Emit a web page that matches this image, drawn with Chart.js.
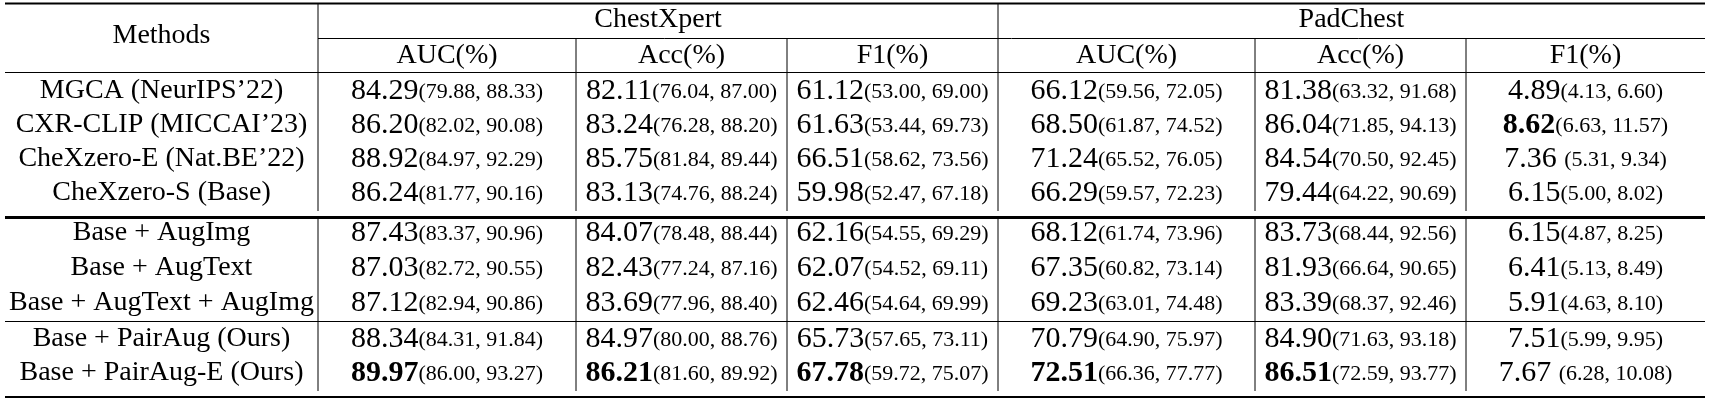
<!DOCTYPE html>
<html>
<head>
<meta charset="utf-8">
<script src="https://cdn.jsdelivr.net/npm/chart.js@4"></script>
<style>
  body { margin: 0; background: #fff; }
  canvas { display: block; }
</style>
</head>
<body>
<canvas id="tabla" width="1710" height="401"></canvas>
<script>
// Datos de la tabla
const methods = [
  'MGCA (NeurIPS’22)', 'CXR-CLIP (MICCAI’23)', 'CheXzero-E (Nat.BE’22)', 'CheXzero-S (Base)',
  'Base + AugImg', 'Base + AugText', 'Base + AugText + AugImg',
  'Base + PairAug (Ours)', 'Base + PairAug-E (Ours)'
];
const datasets = ['ChestXpert', 'PadChest'];
const metrics = ['AUC(%)', 'Acc(%)', 'F1(%)'];

const chexAUC = ['84.29', '86.20', '88.92', '86.24', '87.43', '87.03', '87.12', '88.34', '89.97'];
const chexAUCci = ['(79.88, 88.33)', '(82.02, 90.08)', '(84.97, 92.29)', '(81.77, 90.16)', '(83.37, 90.96)', '(82.72, 90.55)', '(82.94, 90.86)', '(84.31, 91.84)', '(86.00, 93.27)'];
const chexAcc = ['82.11', '83.24', '85.75', '83.13', '84.07', '82.43', '83.69', '84.97', '86.21'];
const chexAccci = ['(76.04, 87.00)', '(76.28, 88.20)', '(81.84, 89.44)', '(74.76, 88.24)', '(78.48, 88.44)', '(77.24, 87.16)', '(77.96, 88.40)', '(80.00, 88.76)', '(81.60, 89.92)'];
const chexF1 = ['61.12', '61.63', '66.51', '59.98', '62.16', '62.07', '62.46', '65.73', '67.78'];
const chexF1ci = ['(53.00, 69.00)', '(53.44, 69.73)', '(58.62, 73.56)', '(52.47, 67.18)', '(54.55, 69.29)', '(54.52, 69.11)', '(54.64, 69.99)', '(57.65, 73.11)', '(59.72, 75.07)'];
const padAUC = ['66.12', '68.50', '71.24', '66.29', '68.12', '67.35', '69.23', '70.79', '72.51'];
const padAUCci = ['(59.56, 72.05)', '(61.87, 74.52)', '(65.52, 76.05)', '(59.57, 72.23)', '(61.74, 73.96)', '(60.82, 73.14)', '(63.01, 74.48)', '(64.90, 75.97)', '(66.36, 77.77)'];
const padAcc = ['81.38', '86.04', '84.54', '79.44', '83.73', '81.93', '83.39', '84.90', '86.51'];
const padAccci = ['(63.32, 91.68)', '(71.85, 94.13)', '(70.50, 92.45)', '(64.22, 90.69)', '(68.44, 92.56)', '(66.64, 90.65)', '(68.37, 92.46)', '(71.63, 93.18)', '(72.59, 93.77)'];
const padF1 = ['4.89', '8.62', '7.36 ', '6.15', '6.15', '6.41', '5.91', '7.51', '7.67 '];
const padF1ci = ['(4.13, 6.60)', '(6.63, 11.57)', '(5.31, 9.34)', '(5.00, 8.02)', '(4.87, 8.25)', '(5.13, 8.49)', '(4.63, 8.10)', '(5.99, 9.95)', '(6.28, 10.08)'];

// fila con el mejor valor (negrita) por columna
const bestRow = [8, 8, 8, 8, 8, 1];

const columnas = [
  [chexAUC, chexAUCci], [chexAcc, chexAccci], [chexF1, chexF1ci],
  [padAUC, padAUCci], [padAcc, padAccci], [padF1, padF1ci]
];

// Geometría (coordenadas en unidades de la escala)
const bordesX = [5, 318, 576, 787, 998, 1255, 1466, 1705];
const filasY = [91, 125, 159, 193, 233, 268, 303, 339, 373];
const FUENTE = '"Liberation Serif", "DejaVu Serif", serif';

const tablaPlugin = {
  id: 'tabla',
  afterDraw(chart) {
    const ctx = chart.ctx;
    const sx = chart.scales.x, sy = chart.scales.y;
    const X = v => sx.getPixelForValue(v);
    const Y = v => sy.getPixelForValue(v);

    ctx.save();
    ctx.strokeStyle = '#000';
    ctx.fillStyle = '#000';

    const hline = (x0, x1, y, w) => {
      ctx.lineWidth = w;
      ctx.beginPath(); ctx.moveTo(X(x0), Y(y)); ctx.lineTo(X(x1), Y(y)); ctx.stroke();
    };
    const vline = (x, y0, y1) => {
      ctx.lineWidth = 1;
      ctx.beginPath(); ctx.moveTo(X(x), Y(y0)); ctx.lineTo(X(x), Y(y1)); ctx.stroke();
    };

    // líneas horizontales
    hline(bordesX[0], bordesX[7], 3.5, 2);
    hline(bordesX[1], bordesX[7], 38.5, 1);
    hline(bordesX[0], bordesX[7], 72.5, 1);
    hline(bordesX[0], bordesX[7], 217.5, 3);
    hline(bordesX[0], bordesX[7], 321.5, 1);
    hline(bordesX[0], bordesX[7], 397, 2);

    // líneas verticales
    vline(bordesX[1], 4, 211);
    vline(bordesX[1], 219, 391);
    vline(bordesX[4], 4, 211);
    vline(bordesX[4], 219, 391);
    [2, 3, 5, 6].forEach(i => {
      vline(bordesX[i], 39, 211);
      vline(bordesX[i], 219, 391);
    });

    ctx.textBaseline = 'middle';
    ctx.textAlign = 'center';
    ctx.font = `28px ${FUENTE}`;
    ctx.fillText('Methods', X((bordesX[0] + bordesX[1]) / 2), Y(36));
    ctx.fillText(datasets[0], X((bordesX[1] + bordesX[4]) / 2), Y(20));
    ctx.fillText(datasets[1], X((bordesX[4] + bordesX[7]) / 2), Y(20));
    for (let c = 0; c < 6; c++) {
      ctx.fillText(metrics[c % 3], X((bordesX[c + 1] + bordesX[c + 2]) / 2), Y(56));
    }

    methods.forEach((m, r) => {
      ctx.fillText(m, X((bordesX[0] + bordesX[1]) / 2), Y(filasY[r]));
    });

    // celdas: valor principal + intervalo
    ctx.textAlign = 'left';
    columnas.forEach(([vals, cis], c) => {
      const cx = X((bordesX[c + 1] + bordesX[c + 2]) / 2);
      vals.forEach((v, r) => {
        const fMain = `${bestRow[c] === r ? 'bold ' : ''}30px ${FUENTE}`;
        const fCi = `22px ${FUENTE}`;
        ctx.font = fMain;
        const w1 = ctx.measureText(v).width;
        ctx.font = fCi;
        const w2 = ctx.measureText(cis[r]).width;
        const x0 = cx - (w1 + w2) / 2;
        const y = Y(filasY[r]);
        ctx.font = fMain;
        ctx.fillText(v, x0, y);
        ctx.font = fCi;
        ctx.fillText(cis[r], x0 + w1, y + 1);
      });
    });
    ctx.restore();
  }
};

new Chart(document.getElementById('tabla'), {
  type: 'scatter',
  data: { datasets: [{ data: [] }] },
  options: {
    responsive: false,
    animation: false,
    layout: { padding: 0 },
    plugins: { legend: { display: false }, tooltip: { enabled: false } },
    scales: {
      x: { type: 'linear', min: 0, max: 1710, display: false },
      y: { type: 'linear', min: 0, max: 401, reverse: true, display: false }
    }
  },
  plugins: [tablaPlugin]
});
</script>
</body>
</html>
